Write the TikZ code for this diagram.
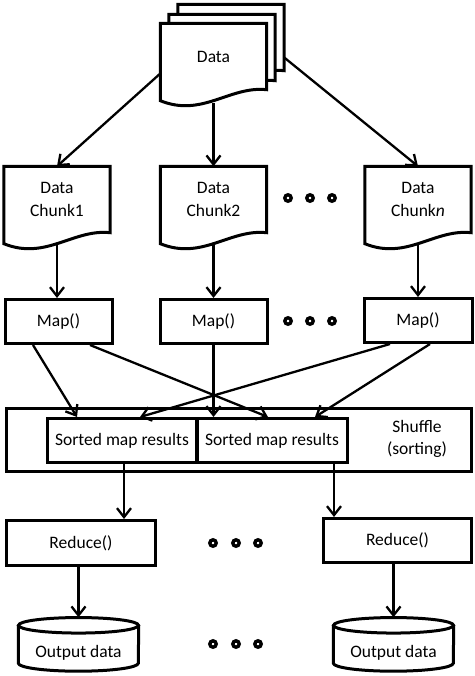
\documentclass[tikz,border=0pt]{standalone}
\usepackage{fontspec}
\setmainfont{Carlito}
\usetikzlibrary{arrows.meta,backgrounds}

\begin{document}
\begin{tikzpicture}[x=1pt, y=-1pt]
\useasboundingbox (0,0) rectangle (474,676);

\tikzset{DocStyle/.style = {
 shape = rectangle,
 minimum width = 106pt,
 minimum height = 66pt,
 align = center,
 inner sep = 0pt,
 font = \fontsize{17.5}{23}\selectfont} }

\node[DocStyle] (Data3) at (231, 37.5) {};
\node[DocStyle] (Data2) at (222, 47.5) {};
\node[DocStyle] (Data1) at (213.5, 56.5) {Data};
\node[DocStyle] (Chunk1) at (57, 199.5) {Data\\Chunk1};
\node[DocStyle] (Chunk2) at (213.5, 199.5) {Data\\Chunk2};
\node[DocStyle] (ChunkN) at (418, 199.5) {Data\\Chunk\textit{n}};

\begin{scope}[on background layer]
\foreach \d in {Data3, Data2, Data1, Chunk1, Chunk2, ChunkN}
 \draw[line width=3pt, fill=white] (\d.north west) -- (\d.north east) -- (\d.south east)
  .. controls ([xshift=-37pt, yshift=4pt]\d.south east) and ([xshift=42pt, yshift=-28pt]\d.south west)
  .. ([yshift=-11pt]\d.south west) -- cycle;
\end{scope}


\tikzset{BoxStyle/.style = {
 draw,
 line width = 3pt,
 shape = rectangle,
 align = center,
 inner sep = 0pt,
 font = \fontsize{17.5}{22}\selectfont} }

\node[BoxStyle, minimum width=107pt, minimum height=44pt] (Map1) at (58.5, 321.5) {Map()};
\node[BoxStyle, minimum width=107pt, minimum height=44pt] (Map2) at (213.5, 321.5) {Map()};
\node[BoxStyle, minimum width=108pt, minimum height=44pt] (Map3) at (418, 320.5) {Map()};
\node[BoxStyle, minimum width=465pt, minimum height=63pt] (Shuffle) at (239, 440) {};
\node[font=\fontsize{17.5}{22}\selectfont, align=center] (ShuffleText) at (417, 439) {Shuffle\\(sorting)};
\node[BoxStyle, minimum width=149pt, minimum height=44pt] (Sorted1) at (122, 440.5) {Sorted map results};
\node[BoxStyle, minimum width=150pt, minimum height=44pt] (Sorted2) at (272, 440.5) {Sorted map results};
\node[BoxStyle, minimum width=149pt, minimum height=45pt] (Reduce1) at (81, 543) {Reduce()};
\node[BoxStyle, minimum width=148pt, minimum height=44pt] (Reduce2) at (397.5, 540.5) {Reduce()};


\tikzset{CylStyle/.style = {
 shape = rectangle,
 minimum width = 120pt,
 minimum height = 71pt,
 inner sep = 0pt,
 font = \fontsize{17.5}{22}\selectfont} }

\node[CylStyle] (Out1) at (78.5, 653) {Output data};
\node[CylStyle] (Out2) at (393.5, 653) {Output data};

\foreach \o in {Out1, Out2}
{
 \draw[line width=3pt] ([yshift=-8pt]\o.north) ellipse [x radius=60pt, y radius=7.75pt];
 \draw[line width=3pt] ([yshift=-8pt]\o.north west) -- ([yshift=25.5pt]\o.south west)
  arc [start angle=180, end angle=360, x radius=60pt, y radius=8pt] -- ([yshift=-8pt]\o.north east);
}


\tikzset{EdgeStyle/.style = {line width=2.3pt, -{Straight Barb[length=9pt, width=14pt]}} }

\draw[ EdgeStyle] ([yshift=-17pt]Data1.west) -- (Chunk1.north);
\draw[ EdgeStyle] ([yshift=-13pt]Data1.south) -- (Chunk2.north);
\draw[ EdgeStyle] ([yshift=-20pt]Data3.east) -- (ChunkN.north);
\draw[ EdgeStyle] ([yshift=-12pt]Chunk1.south) -- (Chunk1.south |- Map1.north);
\draw[ EdgeStyle] ([yshift=-12pt]Chunk2.south) -- (Chunk2.south |- Map2.north);
\draw[ EdgeStyle] ([yshift=-12pt]ChunkN.south) -- (ChunkN.south |- Map3.north);
\draw[ EdgeStyle] ([xshift=-25.5pt]Map1.south) -- ([xshift=-45pt]Sorted1.north);
\draw[ EdgeStyle] ([xshift=31.5pt]Map1.south) -- ([xshift=-4pt]Sorted2.north);
\draw[ EdgeStyle] (Map2.south) -- (Map2.south |- Sorted2.north);
\draw[ EdgeStyle] ([xshift=-28pt]Map3.south) -- ([xshift=18pt]Sorted1.north);
\draw[ EdgeStyle] ([xshift=12pt]Map3.south) -- ([xshift=43pt]Sorted2.north);
\draw[ EdgeStyle] ([xshift=2pt]Sorted1.south) -- ([xshift=2pt]Sorted1.south |- Reduce1.north);
\draw[ EdgeStyle] ([xshift=62pt]Sorted2.south) -- ([xshift=62pt]Sorted2.south |- Reduce2.north);
\draw[ EdgeStyle] (Reduce1.south -| Out1.north) -- (Out1.north);
\draw[ EdgeStyle] (Reduce2.south -| Out2.north) -- (Out2.north);


\tikzset{DotStyle/.style = {line width=3.4pt} }

\foreach \x in {288, 310, 332}
{
 \draw[DotStyle] (\x, 198) circle [radius=3.2pt];
 \draw[DotStyle] (\x, 321) circle [radius=3.2pt];
}
\foreach \x in {213, 236, 258}
{
 \draw[DotStyle] (\x, 543) circle [radius=3.2pt];
 \draw[DotStyle] (\x, 644) circle [radius=3.2pt];
}

\end{tikzpicture}
\end{document}
